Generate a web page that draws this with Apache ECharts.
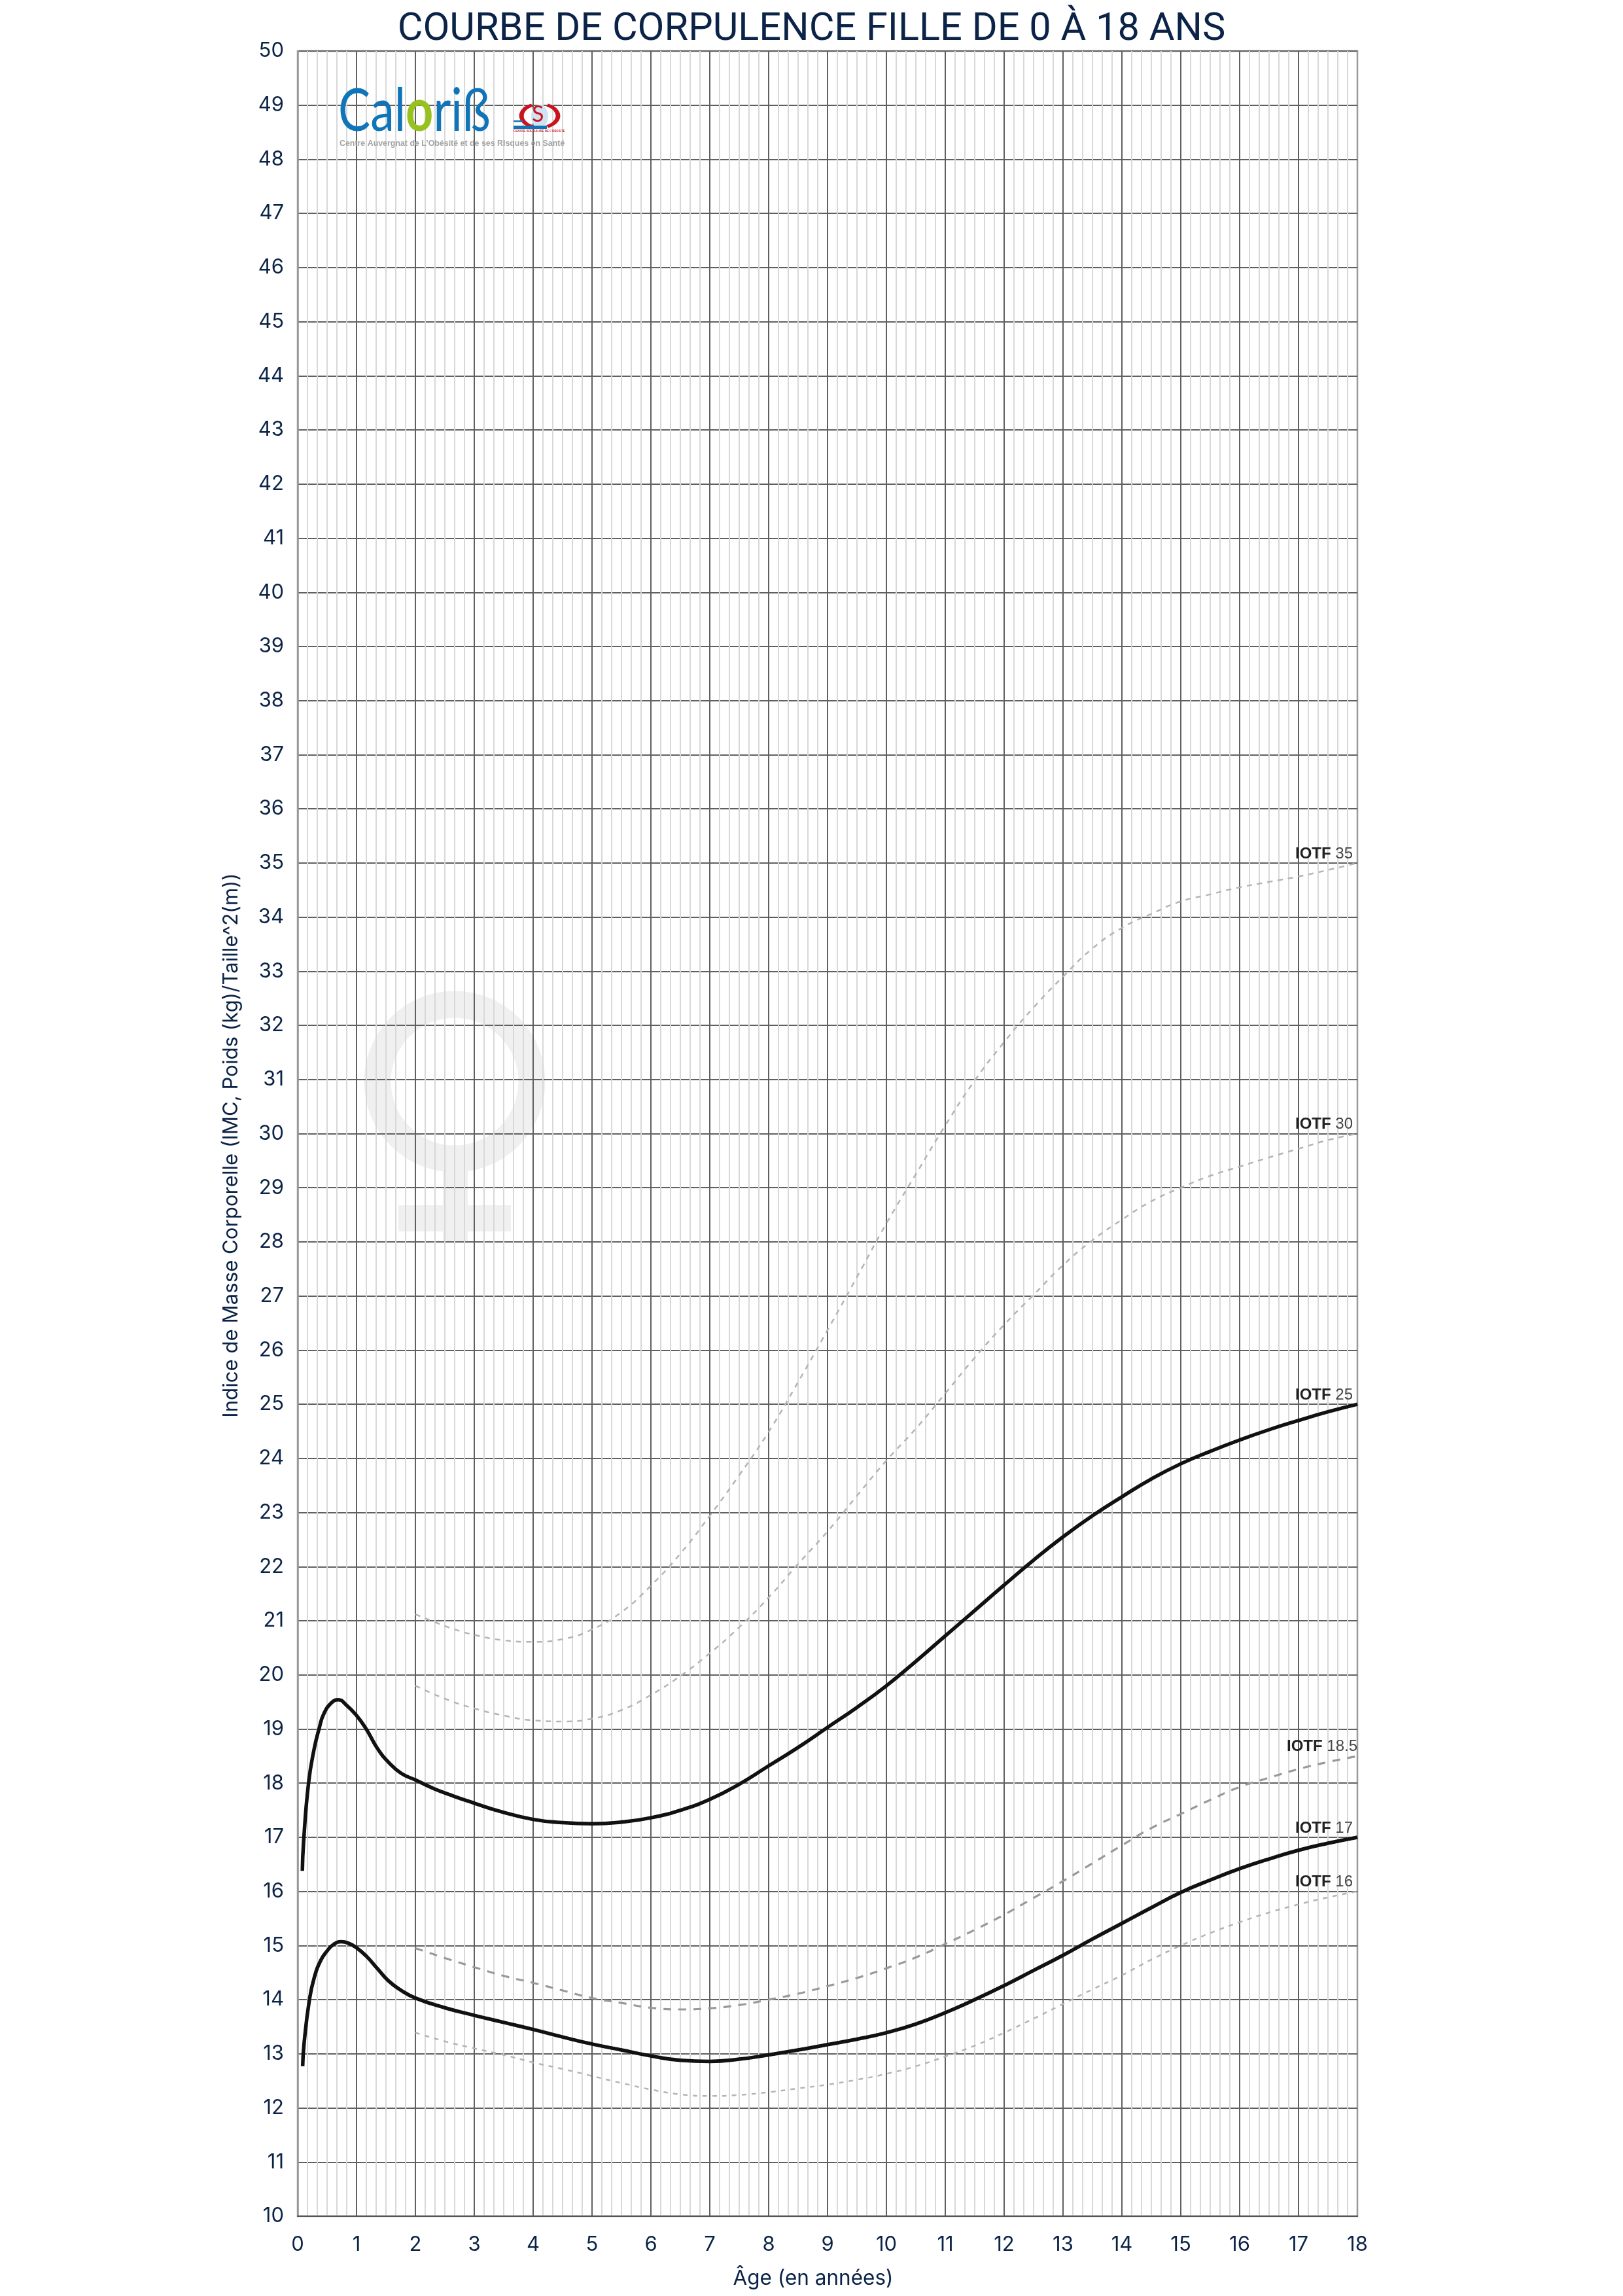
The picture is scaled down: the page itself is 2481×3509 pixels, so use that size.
<!DOCTYPE html>
<html>
<head>
<meta charset="utf-8">
<script src="https://cdn.jsdelivr.net/npm/echarts@6/dist/echarts.min.js"></script>
<style>html,body{margin:0;padding:0;background:#fff}#c{width:2481px;height:3509px}</style>
</head>
<body>
<div id="c"></div>
<script>
const iotf35Ages = [2,2.32,2.64,3,3.5,4,4.5,5,5.5,6,6.5,7,7.5,8,8.5,9,9.5,10,10.5,11,11.5,12,12.5,13,13.5,14,14.5,15,15.5,16,16.5,17,17.5,18];
const iotf35Values = [21.12,20.98,20.85,20.74,20.64,20.61,20.66,20.84,21.16,21.65,22.24,22.94,23.69,24.49,25.41,26.37,27.35,28.34,29.25,30.15,30.98,31.69,32.33,32.9,33.42,33.8,34.06,34.29,34.42,34.55,34.65,34.75,34.87,35];
const iotf30Ages = [2,2.5,3,3.5,4,4.5,5,5.5,6,6.5,7,7.5,8,8.5,9,9.5,10,10.5,11,11.5,12,12.5,13,13.5,14,14.5,15,15.5,16,16.5,17,17.5,18];
const iotf30Values = [19.8,19.56,19.38,19.25,19.16,19.14,19.19,19.35,19.63,19.98,20.4,20.88,21.43,22.05,22.65,23.31,23.96,24.55,25.2,25.86,26.47,27.02,27.57,28.03,28.41,28.75,29,29.22,29.39,29.56,29.72,29.88,30];
const iotf25Ages = [0.08,0.1,0.185,0.28,0.37,0.44,0.57,0.69,0.83,1,1.17,1.35,1.54,1.76,2,2.31,2.65,3,3.43,4,4.5,5,5.5,6,6.5,7,7.5,8,8.5,9,9.5,10,10.5,11,11.5,12,12.5,13,13.5,14,14.5,15,15.5,16,16.5,17,17.5,18];
const iotf25Values = [16.38,16.9,18,18.63,19.03,19.27,19.48,19.54,19.44,19.25,18.99,18.65,18.39,18.18,18.06,17.9,17.76,17.63,17.48,17.33,17.27,17.25,17.28,17.36,17.5,17.7,17.98,18.32,18.66,19.03,19.4,19.8,20.25,20.72,21.19,21.66,22.12,22.55,22.94,23.29,23.62,23.9,24.13,24.34,24.53,24.7,24.86,25];
const iotf185Ages = [2,2.5,3,3.5,4,4.5,5,5.5,6,6.5,7,7.5,8,8.5,9,9.5,10,10.5,11,11.5,12,12.5,13,13.5,14,14.5,15,15.5,16,16.5,17,17.5,18];
const iotf185Values = [14.95,14.77,14.6,14.44,14.31,14.17,14.03,13.94,13.85,13.82,13.84,13.9,14,14.11,14.25,14.4,14.58,14.78,15.03,15.29,15.57,15.88,16.19,16.52,16.85,17.17,17.43,17.69,17.93,18.1,18.26,18.39,18.5];
const iotf17Ages = [0.085,0.11,0.2,0.28,0.39,0.5,0.61,0.74,0.87,1,1.17,1.35,1.54,1.76,2,2.5,3,3.5,4,4.5,5,5.5,6,6.5,7,7.5,8,8.5,9,9.5,10,10.5,11,11.5,12,12.5,13,13.5,14,14.5,15,15.5,16,16.5,17,17.5,18];
const iotf17Values = [12.77,13.2,14,14.4,14.72,14.9,15.02,15.07,15.04,14.96,14.8,14.58,14.35,14.17,14.03,13.85,13.71,13.58,13.45,13.31,13.18,13.07,12.96,12.88,12.86,12.9,12.98,13.07,13.17,13.27,13.39,13.55,13.76,14,14.26,14.54,14.82,15.12,15.41,15.7,15.98,16.21,16.42,16.6,16.76,16.89,17];
const iotf16Ages = [2,2.5,3,3.5,4,4.5,5,5.5,6,6.5,7,7.5,8,8.5,9,9.5,10,10.5,11,11.5,12,12.5,13,13.5,14,14.5,15,15.5,16,16.5,17,17.5,18];
const iotf16Values = [13.39,13.23,13.1,12.98,12.84,12.72,12.59,12.46,12.34,12.25,12.22,12.24,12.29,12.36,12.43,12.52,12.63,12.77,12.95,13.15,13.39,13.65,13.92,14.19,14.45,14.74,15,15.23,15.43,15.61,15.76,15.89,16];
const yTicks = {min:10, max:50, step:1};
const xTicks = {min:0, max:18, step:1, minorPerYear:6};
const titleText = 'COURBE DE CORPULENCE FILLE DE 0 À 18 ANS';
const yAxisName = 'Indice de Masse Corporelle (IMC, Poids (kg)/Taille^2(m))';
const xAxisName = 'Âge (en années)';

const navy = '#0b2347';
const pair = (xs, ys) => xs.map((x, i) => [x, ys[i]]);
function curve(name, xs, ys, color, width, dash, tag) {
  return {
    name, type: 'line', data: pair(xs, ys), smooth: 0.5, symbol: 'none', showSymbol: false,
    lineStyle: {color, width, type: dash || 'solid', cap: 'butt'}, z: 5, silent: true,
    endLabel: {
      show: true,
      formatter: () => '{b|IOTF}{n|\u00a0' + tag + '}',
      align: 'right', verticalAlign: 'bottom',
      offset: [tag === '18.5' ? -8 : -15, -2],
      rich: {
        b: {fontFamily: 'Liberation Sans', fontSize: 24, fontWeight: 'bold', color: '#222'},
        n: {fontFamily: 'Liberation Sans', fontSize: 24, color: '#444'}
      }
    }
  };
}

const wm = '#f0f0f0';
const logoBlue = '#0f75b8';
const logoRed = '#c8141e';
const chart = echarts.init(document.getElementById('c'), null, {renderer: 'canvas'});
chart.setOption({
  animation: false,
  backgroundColor: '#fff',
  title: {
    text: titleText, left: 'center', top: 11,
    textStyle: {fontFamily: 'Roboto', fontWeight: 'normal', fontSize: 59.5, color: navy}
  },
  grid: {left: 455, right: 406, top: 78, bottom: 122, containLabel: false, show: true, borderColor: '#999', borderWidth: 2.5},
  xAxis: {
    type: 'value', min: xTicks.min, max: xTicks.max, interval: xTicks.step,
    name: xAxisName, nameLocation: 'middle', nameGap: 80,
    nameTextStyle: {fontFamily: 'Inter', fontSize: 31.5, color: navy, padding: [0, 44, 0, 0]},
    axisLine: {show: true, onZero: false, lineStyle: {color: '#555', width: 2}},
    axisTick: {show: false},
    minorTick: {show: false, splitNumber: xTicks.minorPerYear},
    axisLabel: {fontFamily: 'Inter', fontSize: 31, color: navy, margin: 28},
    splitLine: {show: true, showMinLine: false, showMaxLine: false, lineStyle: {color: '#606060', width: 2}},
    minorSplitLine: {show: true, lineStyle: {color: '#d8d8d8', width: 2}}
  },
  yAxis: {
    type: 'value', min: yTicks.min, max: yTicks.max, interval: yTicks.step,
    name: yAxisName, nameLocation: 'middle', nameGap: 86, nameRotate: 90,
    nameTextStyle: {fontFamily: 'Inter', fontSize: 31.2, color: navy, padding: [0, 36, 0, 0]},
    axisLine: {show: true, onZero: false, lineStyle: {color: '#999', width: 2.5}},
    axisTick: {show: false},
    axisLabel: {fontFamily: 'Inter', fontSize: 31, color: navy, margin: 21},
    splitLine: {show: true, lineStyle: {color: '#606060', width: 2}}
  },
  series: [
    curve('IOTF 35', iotf35Ages, iotf35Values, '#b4b4b4', 2.5, [8, 8], '35'),
    curve('IOTF 30', iotf30Ages, iotf30Values, '#b4b4b4', 2.5, [8, 8], '30'),
    curve('IOTF 25', iotf25Ages, iotf25Values, '#111', 5.5, null, '25'),
    curve('IOTF 18.5', iotf185Ages, iotf185Values, '#999', 3.2, [12, 11], '18.5'),
    curve('IOTF 17', iotf17Ages, iotf17Values, '#111', 5.5, null, '17'),
    curve('IOTF 16', iotf16Ages, iotf16Values, '#b4b4b4', 2.5, [7, 8], '16')
  ],
  graphic: [
    {type: 'circle', z: -10, shape: {cx: 695, cy: 1653, r: 118}, style: {fill: 'none', stroke: wm, lineWidth: 41}},
    {type: 'rect', z: -10, shape: {x: 677, y: 1785, width: 38, height: 112}, style: {fill: wm}},
    {type: 'rect', z: -10, shape: {x: 609, y: 1842, width: 172, height: 40}, style: {fill: wm}},
    {type: 'text', z: 8, x: 517, y: 124, scaleX: 0.8, style: {
      text: '{a|Cal}{g|o}{a|riß}',
      rich: {
        a: {fontFamily: 'Lato', fontSize: 92, fill: logoBlue},
        g: {fontFamily: 'Lato', fontSize: 92, fill: '#97c11f', fontWeight: 'bold'}
      }
    }},
    {type: 'text', z: 8, left: 519, top: 214, style: {
      text: 'Centre Auvergnat de L’Obésité et de ses RIsques en Santé',
      font: 'bold 12.4px "Liberation Sans"', fill: '#a3a3a3'
    }},
    {type: 'ellipse', z: 7, shape: {cx: 825, cy: 178, rx: 13, ry: 18}, style: {fill: '#cfe3f2'}},
    {type: 'arc', z: 8, x: 825, y: 177, scaleX: 1.55, shape: {cx: 0, cy: 0, r: 18, startAngle: 2.0, endAngle: 4.28}, style: {fill: 'none', stroke: logoRed, lineWidth: 4.5}},
    {type: 'arc', z: 8, x: 825, y: 177, scaleX: 1.55, shape: {cx: 0, cy: 0, r: 18, startAngle: -1.14, endAngle: 1.14}, style: {fill: 'none', stroke: logoRed, lineWidth: 4.5}},
    {type: 'text', z: 9, left: 813, top: 158, style: {text: 'S', font: '34px "Lato"', fill: logoRed}},
    {type: 'rect', z: 8, shape: {x: 785, y: 192, width: 51, height: 5}, style: {fill: logoBlue}},
    {type: 'rect', z: 8, shape: {x: 785, y: 184, width: 14, height: 2.5}, style: {fill: logoBlue}},
    {type: 'text', z: 8, left: 785, top: 198, style: {
      text: 'CENTRE SPECIALISE DE L’OBESITE', font: 'bold 4.5px "Liberation Sans"', fill: logoRed
    }}
  ]
});
</script>
</body>
</html>
